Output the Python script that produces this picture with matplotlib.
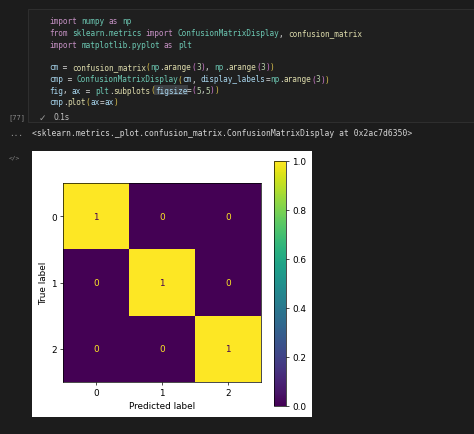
import numpy as np
import matplotlib
matplotlib.use("Agg")
import matplotlib.pyplot as plt
from matplotlib.patches import Rectangle

# data
cm = np.array([[1, 0, 0],
               [0, 1, 0],
               [0, 0, 1]])
class_labels = ["0", "1", "2"]
cbar_ticks = [0.0, 0.2, 0.4, 0.6, 0.8, 1.0]

# notebook cell text (tokens, colour key)
code_lines = [
    [("import", "kw"), (" ", "p"), ("numpy", "mod"), (" ", "p"), ("as", "kw"), (" ", "p"), ("np", "mod")],
    [("from", "kw"), (" ", "p"), ("sklearn.metrics", "mod"), (" ", "p"), ("import", "kw"), (" ", "p"),
     ("ConfusionMatrixDisplay", "mod"), (", ", "p"), ("confusion_matrix", "fn")],
    [("import", "kw"), (" ", "p"), ("matplotlib.pyplot", "mod"), (" ", "p"), ("as", "kw"), (" ", "p"), ("plt", "mod")],
    [],
    [("cm", "var"), (" = ", "p"), ("confusion_matrix", "fn"), ("(", "b1"), ("np", "mod"), (".", "p"), ("arange", "fn"),
     ("(", "b2"), ("3", "num"), (")", "b2"), (", ", "p"), ("np", "mod"), (".", "p"), ("arange", "fn"),
     ("(", "b2"), ("3", "num"), (")", "b2"), (")", "b1")],
    [("cmp", "var"), (" = ", "p"), ("ConfusionMatrixDisplay", "mod"), ("(", "b1"), ("cm", "var"), (", ", "p"),
     ("display_labels", "var"), ("=", "p"), ("np", "mod"), (".", "p"), ("arange", "fn"),
     ("(", "b2"), ("3", "num"), (")", "b2"), (")", "b1")],
    [("fig", "var"), (", ", "p"), ("ax", "var"), (" = ", "p"), ("plt", "mod"), (".", "p"), ("subplots", "fn"),
     ("(", "b1"), ("figsize", "var"), ("=", "p"), ("(", "b2"), ("5", "num"), (",", "p"), ("5", "num"),
     (")", "b2"), (")", "b1")],
    [("cmp", "var"), (".", "p"), ("plot", "fn"), ("(", "b1"), ("ax", "var"), ("=", "p"), ("ax", "var"), (")", "b1")],
]
output_text = "<sklearn.metrics._plot.confusion_matrix.ConfusionMatrixDisplay at 0x2ac7d6350>"

colors = {
    "kw": "#c490c2",
    "mod": "#6cc8b3",
    "var": "#a8d6ee",
    "fn": "#dedcac",
    "num": "#b8d0aa",
    "p": "#d6d6d6",
    "b1": "#e0c650",
    "b2": "#d27ecf",
}

W, H = 474, 435


def fx(x):
    return x / W


def fy(y):
    return 1 - y / H


plt.rcParams["font.size"] = 6.4
plt.rcParams["axes.linewidth"] = 0.5
for a in ("xtick", "ytick"):
    plt.rcParams[a + ".major.size"] = 2.2
    plt.rcParams[a + ".major.width"] = 0.5
    plt.rcParams[a + ".major.pad"] = 2.2

fig = plt.figure(figsize=(W / 100, H / 100), dpi=100, facecolor="#1c1c1c")

# code cell
fig.add_artist(Rectangle((fx(28), fy(123)), 1 - fx(28), (123 - 10) / H, transform=fig.transFigure,
                         facecolor="#1f1f1f", edgecolor="#2e2e2e", linewidth=0.8, zorder=-2))
mono = "DejaVu Sans Mono"
cw = 4.6
line_y = [22, 34, 45, 57, 68, 80, 91, 103]
for tokens, y in zip(code_lines, line_y):
    col = 0
    for txt, key in tokens:
        if txt == "figsize":
            fig.add_artist(Rectangle((fx(49 + col * cw - 0.5), fy(y + 5)), (len(txt) * cw + 1) / W, 10 / H,
                                     transform=fig.transFigure, facecolor="#3b3e42", edgecolor="none",
                                     zorder=-1))
        fig.text(fx(49 + col * cw), fy(y), txt, color=colors[key], family=mono, fontsize=5.6,
                 va="center", ha="left")
        col += len(txt)

fig.text(fx(8), fy(118), "[77]", color="#8a8a8a", family=mono, fontsize=5, va="center")
fig.text(fx(39), fy(118), "\u2713", color="#9a9a9a", fontsize=6.5, va="center")
fig.text(fx(53), fy(118), "0.1s", color="#c4c4c4", fontsize=5.5, va="center")

# output
fig.text(fx(9), fy(134), "...", color="#9a9a9a", family=mono, fontsize=5.5, va="center")
fig.text(fx(32), fy(134), output_text, color="#d6d6d6", family=mono, fontsize=5.8, va="center")
fig.text(fx(9), fy(158), "</>", color="#8a8a8a", family=mono, fontsize=4.5, va="center")

# white figure area
fig.add_artist(Rectangle((fx(32), fy(418)), 280 / W, 266 / H, transform=fig.transFigure,
                         facecolor="white", edgecolor="none", zorder=-2))

# confusion matrix
cmap = plt.get_cmap("viridis")
ax = fig.add_axes([fx(63), fy(383), 198 / W, 199 / H])
im = ax.imshow(cm, cmap=cmap, vmin=0, vmax=1, interpolation="nearest", aspect="auto")
thresh = (cm.max() + cm.min()) / 2
for i in range(cm.shape[0]):
    for j in range(cm.shape[1]):
        c = cmap(0.0) if cm[i, j] >= thresh else cmap(1.0)
        ax.text(j, i, str(cm[i, j]), ha="center", va="center", color=c)
ax.set_xticks(range(len(class_labels)), class_labels)
ax.set_yticks(range(len(class_labels)), class_labels)
ax.set_xlabel("Predicted label", labelpad=2.5)
ax.set_ylabel("True label", labelpad=2.5)

cax = fig.add_axes([fx(274), fy(407), 12 / W, 245 / H])
cb = fig.colorbar(im, cax=cax, ticks=cbar_ticks)
cb.outline.set_linewidth(0.5)

fig.savefig("out.png", dpi=100, facecolor=fig.get_facecolor())
